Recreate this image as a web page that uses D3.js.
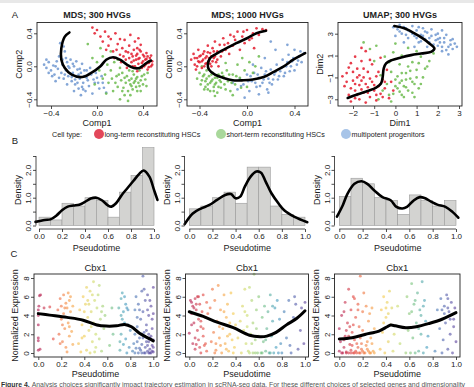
<!DOCTYPE html>
<html>
<head>
<meta charset="utf-8">
<script src="https://cdn.jsdelivr.net/npm/d3@7"></script>
<style>
body { margin: 0; background: #fff; }
svg { display: block; font-family: "Liberation Sans", Arial, sans-serif; }
</style>
</head>
<body>
<svg id="fig" width="474" height="387"></svg>
<script>
// ---------- row A: cells in reduced dimension ----------
const cellTypes = ["long-term reconstituting HSCs", "short-term reconstituting HSCs", "multipotent progenitors"];
const typeColors = ["#e31a2c", "#6cbb4e", "#6f97d0"];
const legendColors = ["#e2475a", "#a9d89b", "#a7c4e8"];

const a1Blue = [[-0.46,0.02],[-0.44,-0.02],[-0.42,0.05],[-0.40,-0.05],[-0.38,0.01],[-0.37,-0.1],[-0.35,0.06],[-0.34,-0.03],[-0.33,0.12],[-0.31,-0.08],[-0.30,0.02],[-0.29,-0.15],[-0.28,0.18],[-0.27,-0.05],[-0.26,0.05],[-0.25,-0.12],[-0.24,-0.02],[-0.23,0.08],[-0.22,-0.18],[-0.21,-0.08],[-0.20,0.0],[-0.19,-0.22],[-0.18,-0.12],[-0.17,-0.04],[-0.16,-0.27],[-0.15,-0.15],[-0.14,-0.08],[-0.13,0.03],[-0.12,-0.2],[-0.11,-0.12],[-0.10,-0.3],[-0.09,-0.05],[-0.08,-0.17],[-0.07,-0.24],[-0.05,-0.1],[-0.04,-0.33],[-0.02,-0.2],[0.0,-0.14],[0.02,-0.27],[0.05,-0.2],[0.08,-0.32],[-0.36,-0.18],[-0.32,0.28],[-0.29,0.24],[-0.26,-0.22],[-0.2,-0.3],[-0.14,-0.35],[-0.42,-0.08],[-0.18,0.06],[-0.06,-0.02],
  [-0.44,0.08],[-0.39,-0.12],[-0.36,0.0],[-0.33,-0.14],[-0.3,0.08],[-0.27,0.1],[-0.25,0.0],[-0.23,-0.09],[-0.21,0.03],[-0.19,-0.16],[-0.17,-0.2],[-0.15,-0.03],[-0.13,-0.25],[-0.11,-0.05],[-0.09,-0.14],[-0.07,-0.09],[-0.03,-0.16],[-0.01,-0.08],[0.01,-0.2],[0.04,-0.12],[-0.28,-0.1],[-0.16,-0.1],[-0.22,-0.13],[-0.12,-0.28],[0.06,-0.26]];
const a1Green = [[-0.08,0.27],[-0.04,0.1],[0.0,0.05],[0.02,-0.05],[0.05,0.12],[0.07,-0.1],[0.09,0.02],[0.1,-0.2],[0.12,-0.05],[0.14,-0.3],[0.15,0.05],[0.17,-0.12],[0.18,-0.25],[0.2,-0.02],[0.21,-0.17],[0.22,-0.08],[0.24,-0.35],[0.25,-0.2],[0.26,-0.12],[0.28,-0.05],[0.29,-0.22],[0.3,-0.15],[0.31,-0.28],[0.32,-0.1],[0.33,-0.18],[0.34,-0.25],[0.35,-0.13],[0.36,-0.2],[0.38,-0.3],[0.39,-0.12],[0.4,-0.22],[0.42,-0.16],[0.44,-0.08],[0.2,-0.4],[0.08,-0.33],[-0.02,-0.22],[0.12,0.18],[0.27,-0.42],[0.03,0.22],[0.37,-0.05],
  [0.16,-0.2],[0.19,-0.1],[0.23,-0.26],[0.24,-0.14],[0.27,-0.3],[0.28,-0.17],[0.3,-0.24],[0.31,-0.06],[0.32,-0.2],[0.34,-0.15],[0.35,-0.3],[0.37,-0.24],[0.38,-0.17],[0.41,-0.1],[0.43,-0.24],[0.22,-0.3],[0.13,-0.15],[0.05,-0.15],[0.18,0.08],[0.29,-0.35]];
const a1Red = [[-0.04,0.47],[-0.02,0.4],[0.0,0.44],[0.03,0.36],[0.05,0.3],[0.07,0.42],[0.1,0.25],[0.12,0.33],[0.14,0.18],[0.16,0.4],[0.18,0.27],[0.2,0.14],[0.22,0.22],[0.24,0.32],[0.25,0.08],[0.27,0.17],[0.28,0.25],[0.3,0.05],[0.31,0.12],[0.32,0.2],[0.33,0.0],[0.34,0.08],[0.35,0.15],[0.36,0.03],[0.37,0.1],[0.38,0.18],[0.39,-0.02],[0.4,0.06],[0.41,0.12],[0.42,0.02],[0.43,0.09],[0.44,-0.04],[0.45,0.04],[0.46,0.1],[0.47,0.0],[0.48,0.06],[0.29,0.38],[0.21,0.05],[0.26,-0.02],[0.38,0.26],[0.15,0.1],[0.43,0.16],[0.35,-0.06],[0.08,0.2],[0.33,0.3],
  [0.28,0.1],[0.3,0.15],[0.32,0.07],[0.34,0.13],[0.36,0.09],[0.37,0.2],[0.39,0.04],[0.4,0.14],[0.41,0.0],[0.42,0.08],[0.44,0.12],[0.45,-0.01],[0.46,0.06],[0.47,0.13],[0.48,0.02],[0.35,0.22],[0.25,0.18],[0.2,0.33],[0.1,0.36],[0.43,0.03],[0.31,0.0],[0.23,0.12],[0.36,0.34],[0.17,0.2]];
const a1Curve = [[-0.24,0.41],[-0.28,0.36],[-0.31,0.22],[-0.31,0.08],[-0.28,-0.02],[-0.22,-0.10],[-0.13,-0.13],[-0.05,-0.08],[0.03,0.0],[0.08,0.08],[0.14,0.11],[0.20,0.08],[0.26,0.02],[0.32,-0.02],[0.37,-0.02],[0.43,0.04],[0.47,0.07]];

const a2Red = [[-0.47,0.08],[-0.45,0.15],[-0.44,0.02],[-0.42,0.1],[-0.41,0.2],[-0.4,0.05],[-0.39,0.13],[-0.38,-0.02],[-0.37,0.08],[-0.36,0.18],[-0.35,0.03],[-0.34,0.12],[-0.33,0.25],[-0.32,0.07],[-0.31,0.16],[-0.3,0.0],[-0.29,0.22],[-0.28,0.1],[-0.27,0.3],[-0.26,0.05],[-0.25,0.18],[-0.23,0.26],[-0.22,0.12],[-0.2,0.34],[-0.18,0.2],[-0.16,0.28],[-0.14,0.38],[-0.12,0.25],[-0.1,0.32],[-0.08,0.42],[-0.06,0.2],[-0.04,0.36],[-0.02,0.28],[0.0,0.44],[0.02,0.32],[0.05,0.4],[0.08,0.46],[0.1,0.38],[0.13,0.45],[0.16,0.44],[-0.43,-0.04],[-0.24,0.0],[-0.15,0.15],[0.06,0.22],
  [-0.44,0.1],[-0.42,0.0],[-0.4,0.12],[-0.38,0.06],[-0.37,0.15],[-0.36,0.0],[-0.35,0.1],[-0.34,0.04],[-0.33,0.17],[-0.32,0.1],[-0.31,0.03],[-0.3,0.12],[-0.29,0.06],[-0.28,0.18],[-0.27,0.12],[-0.25,0.08],[-0.21,0.18],[-0.19,0.26],[-0.11,0.36],[-0.03,0.42],[0.04,0.34],[-0.41,0.06]];
const a2Green = [[-0.42,-0.15],[-0.4,-0.08],[-0.39,-0.22],[-0.37,-0.12],[-0.36,-0.28],[-0.35,-0.18],[-0.34,-0.05],[-0.33,-0.22],[-0.32,-0.12],[-0.31,-0.3],[-0.3,-0.18],[-0.29,-0.08],[-0.28,-0.25],[-0.27,-0.14],[-0.26,-0.2],[-0.25,-0.32],[-0.24,-0.1],[-0.23,-0.17],[-0.22,-0.26],[-0.2,-0.12],[-0.19,-0.22],[-0.17,-0.05],[-0.16,-0.18],[-0.14,-0.3],[-0.12,-0.1],[-0.1,-0.22],[-0.08,0.02],[-0.06,-0.14],[-0.04,0.1],[-0.02,-0.05],[0.02,0.05],[0.05,-0.08],[0.1,0.12],[-0.18,0.04],[-0.27,-0.36],[-0.12,-0.35],[0.0,-0.25],[-0.38,0.0],
  [-0.38,-0.17],[-0.36,-0.1],[-0.34,-0.15],[-0.33,-0.28],[-0.31,-0.2],[-0.3,-0.1],[-0.29,-0.16],[-0.28,-0.3],[-0.27,-0.22],[-0.25,-0.14],[-0.24,-0.25],[-0.22,-0.19],[-0.21,-0.08],[-0.18,-0.28],[-0.15,-0.1],[-0.13,-0.2],[-0.09,-0.12],[-0.05,-0.26],[0.07,0.0],[-0.35,-0.25]];
const a2Blue = [[-0.12,-0.2],[-0.08,-0.28],[-0.06,-0.15],[-0.03,-0.22],[0.0,-0.1],[0.02,-0.3],[0.04,-0.18],[0.06,-0.08],[0.08,-0.25],[0.1,-0.14],[0.12,-0.02],[0.13,-0.2],[0.15,-0.1],[0.17,-0.28],[0.18,-0.15],[0.2,-0.04],[0.21,-0.22],[0.23,-0.1],[0.25,0.02],[0.26,-0.16],[0.28,-0.06],[0.3,0.08],[0.31,-0.12],[0.33,0.0],[0.35,0.14],[0.36,-0.06],[0.38,0.06],[0.4,0.2],[0.42,0.02],[0.44,0.12],[0.46,0.05],[0.48,0.16],[0.24,0.2],[0.15,0.1],[0.05,0.02],[0.1,-0.34],[0.34,0.26],[0.2,0.3],[0.4,-0.05],[-0.02,-0.38],
  [0.03,-0.12],[0.07,-0.2],[0.09,-0.1],[0.11,-0.24],[0.14,-0.16],[0.16,-0.06],[0.19,-0.2],[0.22,-0.16],[0.24,-0.07],[0.27,-0.12],[0.29,-0.02],[0.32,-0.08],[0.34,0.05],[0.37,0.0],[0.39,0.1],[0.43,0.07],[0.45,0.18],[0.01,-0.18],[-0.05,-0.24],[0.18,-0.32]];
const a2Curve = [[0.16,0.43],[0.08,0.40],[0.0,0.34],[-0.09,0.28],[-0.17,0.22],[-0.26,0.15],[-0.31,0.10],[-0.33,0.02],[-0.32,-0.04],[-0.27,-0.10],[-0.20,-0.14],[-0.12,-0.17],[-0.03,-0.17],[0.05,-0.16],[0.14,-0.13],[0.22,-0.07],[0.31,0.0],[0.39,0.08],[0.49,0.16]];

const a3Blue = [[-0.1,3.6],[0.1,3.4],[0.2,3.8],[0.3,3.0],[0.5,3.5],[0.6,2.6],[0.7,3.2],[0.8,3.7],[0.9,2.8],[1.0,3.3],[1.1,2.2],[1.2,2.9],[1.3,3.5],[1.4,2.5],[1.5,1.8],[1.5,3.1],[1.6,2.2],[1.7,2.8],[1.8,1.5],[1.9,2.4],[2.0,3.0],[2.0,1.9],[2.1,2.6],[2.2,1.4],[2.3,2.2],[2.4,2.9],[2.5,1.8],[2.6,2.4],[2.7,1.6],[2.8,2.1],[2.9,1.8],[1.3,1.2],[0.9,1.8],[0.4,2.2],[2.2,3.3],[1.7,3.4],[0.0,2.8],[2.5,1.1],
  [0.2,3.2],[0.4,3.6],[0.6,3.3],[0.8,3.0],[1.0,2.6],[1.1,3.6],[1.3,2.8],[1.4,3.2],[1.6,2.6],[1.8,2.0],[1.9,2.9],[2.1,2.2],[2.2,1.8],[2.3,2.6],[2.4,1.5],[2.6,2.0],[2.7,2.5],[0.5,2.9],[1.2,2.3],[2.0,2.5]];
const a3Green = [[-1.2,1.6],[-1.0,0.5],[-0.9,1.9],[-0.7,-0.8],[-0.5,0.9],[-0.4,-1.6],[-0.3,-2.6],[-0.2,-0.5],[-0.1,1.3],[0.0,-1.8],[0.1,-0.9],[0.2,-2.3],[0.2,0.2],[0.3,-1.3],[0.4,-2.8],[0.5,-0.6],[0.5,-1.9],[0.6,1.7],[0.7,-1.1],[0.8,-2.4],[0.8,0.4],[0.9,-1.6],[1.0,-0.3],[1.1,-2.0],[1.2,0.9],[1.3,-1.0],[1.4,-0.2],[1.6,0.5],[1.8,1.2],[-0.8,-3.0],[-0.6,-2.2],[0.0,2.1],[-1.5,2.2],[1.0,1.4],[0.3,1.0],[-0.2,-3.2],
  [0.0,-1.2],[0.1,-2.0],[0.2,-1.5],[0.3,-0.6],[0.4,-1.8],[0.5,-1.2],[0.6,-2.2],[0.7,-0.4],[0.8,-1.4],[0.9,-2.8],[1.0,-1.0],[1.2,-1.6],[1.5,0.0],[-0.1,-2.5],[0.6,0.0],[1.1,0.3],[-0.3,0.4],[0.3,-2.6]];
const a3Red = [[-2.4,-1.8],[-2.3,-0.6],[-2.2,-2.6],[-2.1,0.3],[-2.0,-1.3],[-1.9,-2.2],[-1.9,0.9],[-1.8,-0.2],[-1.7,-1.7],[-1.7,-3.0],[-1.6,0.5],[-1.5,-1.0],[-1.5,-2.4],[-1.4,1.4],[-1.3,-0.5],[-1.3,-1.9],[-1.2,-2.8],[-1.1,0.2],[-1.1,-1.4],[-1.0,-2.2],[-0.9,-0.9],[-0.9,-3.1],[-0.8,-1.8],[-0.7,0.8],[-0.7,-2.5],[-0.6,-1.2],[-0.5,-2.0],[-0.4,-0.3],[-0.3,-2.9],[-0.2,-1.4],[-2.1,-3.2],[-1.6,1.7],[-2.5,-0.9],[-0.1,-2.2],[-1.4,-3.3],[-1.8,-1.0],
  [-2.3,-1.4],[-2.1,-2.0],[-2.0,-0.5],[-1.9,-1.6],[-1.8,-2.6],[-1.7,-0.8],[-1.6,-1.3],[-1.6,-2.1],[-1.5,-0.2],[-1.4,-1.6],[-1.3,-2.4],[-1.2,-1.1],[-1.2,0.6],[-1.0,-1.7],[-0.9,-2.6],[-0.8,-0.5],[-0.6,-2.8],[-0.5,-1.4],[-2.2,-0.1],[-1.9,-2.9]];
const a3Curve = [[-0.05,3.70],[0.42,3.49],[0.90,3.03],[1.29,2.57],[1.60,2.11],[1.84,1.65],[1.68,1.34],[1.21,1.19],[0.74,1.04],[0.27,0.83],[-0.17,0.58],[-0.44,0.28],[-0.55,-0.18],[-0.60,-0.95],[-0.68,-1.56],[-0.91,-1.93],[-1.31,-2.24],[-1.78,-2.54],[-2.25,-2.88]];

// ---------- row B: pseudotime histograms (bin width 0.1) ----------
const binEdges = [0, 0.1, 0.2, 0.3, 0.4, 0.5, 0.6, 0.7, 0.8, 0.9, 1.0];
const b1Hist = [0.3, 0.2, 0.8, 0.7, 1.0, 0.9, 0.3, 1.2, 1.8, 2.8];
const b2Hist = [0.6, 0.7, 1.0, 1.2, 0.8, 2.1, 2.1, 0.7, 0.4, 0.3];
const b3Hist = [1.05, 1.7, 1.5, 1.0, 0.9, 0.4, 1.1, 0.9, 0.7, 0.9];
const b1Dens = [[-0.03,0.13],[0.05,0.2],[0.1,0.22],[0.15,0.35],[0.2,0.55],[0.25,0.68],[0.3,0.72],[0.35,0.75],[0.4,0.85],[0.45,0.97],[0.5,1.0],[0.55,0.9],[0.6,0.72],[0.63,0.68],[0.67,0.8],[0.72,1.1],[0.77,1.35],[0.82,1.6],[0.87,1.85],[0.91,1.98],[0.96,1.76],[1.0,1.28],[1.03,0.92]];
const b2Dens = [[-0.04,0.05],[0.03,0.43],[0.1,0.61],[0.17,0.73],[0.24,0.92],[0.31,1.1],[0.36,1.13],[0.4,0.98],[0.44,1.04],[0.48,1.4],[0.53,1.76],[0.58,1.94],[0.62,1.9],[0.66,1.58],[0.71,1.16],[0.77,0.8],[0.82,0.55],[0.91,0.31],[1.02,0.12]];
const b3Dens = [[-0.02,0.32],[0.03,0.73],[0.07,1.14],[0.13,1.5],[0.19,1.59],[0.24,1.5],[0.3,1.26],[0.37,1.02],[0.44,0.91],[0.49,0.67],[0.54,0.61],[0.58,0.67],[0.64,0.91],[0.69,1.02],[0.73,0.99],[0.79,0.85],[0.84,0.75],[0.91,0.67],[0.97,0.49],[1.02,0.28]];

// ---------- row C: Cbx1 expression against pseudotime ----------
const pseudoPalette = ["#b0174f", "#e3443c", "#f58c3c", "#f5c84a", "#c9dc6a", "#74c27a", "#3f9bbd", "#4a68b0", "#5a3e9b"];
const c1Cells = [[0,0.3],[0,1.6],[0,3.0],[0,4.0],[0,4.6],[0.005,5.0],[0.01,6.1],[0.02,6.2],[0.0,1.3],[0.015,0.4],[0.05,4.8],[0.1,4.9],[0.13,1.5],[0.17,4.6],[0.18,2.0],[0.19,5.8],[0.2,3.6],[0.21,1.2],[0.22,6.2],[0.22,4.2],[0.23,2.6],[0.24,5.3],[0.24,0.6],[0.25,4.8],[0.26,3.2],[0.26,6.4],[0.27,1.8],[0.27,5.6],[0.28,4.4],[0.29,2.3],[0.3,5.0],[0.3,0.9],[0.21,3.0],[0.25,0.1],[0.28,6.0],[0.35,1.0],[0.36,4.6],[0.37,0.1],[0.38,3.0],[0.39,6.0],[0.4,1.8],[0.41,5.2],[0.42,0.3],[0.42,7.0],[0.43,3.8],[0.44,2.4],[0.45,6.6],[0.45,0.0],[0.46,4.4],[0.47,1.2],[0.48,7.6],[0.48,3.2],[0.49,5.6],[0.5,0.6],[0.5,2.0],[0.51,4.8],[0.52,6.2],[0.53,1.5],[0.54,3.6],[0.55,0.2],[0.56,5.0],[0.57,2.6],[0.58,4.0],[0.44,5.2],[0.53,7.2],[0.62,0.8],[0.64,4.8],[0.65,2.0],[0.7,4.8],[0.71,0.3],[0.72,5.8],[0.72,2.0],[0.73,3.6],[0.74,0.9],[0.74,4.4],[0.75,6.0],[0.76,1.5],[0.76,5.2],[0.77,0.0],[0.78,3.0],[0.79,0.6],[0.8,2.4],[0.73,6.4],[0.78,4.6],[0.82,0.2],[0.83,1.0],[0.84,4.6],[0.85,0.5],[0.85,6.0],[0.86,2.8],[0.87,0.0],[0.87,5.2],[0.88,1.6],[0.89,3.6],[0.89,0.3],[0.9,6.6],[0.9,0.9],[0.91,4.4],[0.91,8.2],[0.92,0.0],[0.92,2.2],[0.93,5.6],[0.93,0.6],[0.94,1.2],[0.94,3.0],[0.95,0.2],[0.95,6.2],[0.96,0.0],[0.96,4.0],[0.97,1.6],[0.97,0.4],[0.98,5.0],[0.98,0.0],[0.99,2.6],[0.99,0.8],[1.0,7.0],[1.0,0.1],[1.0,4.2],[1.0,1.4],[0.96,2.0],[0.88,4.6],[0.92,6.8],
  [0.84,0.0],[0.86,1.2],[0.88,0.5],[0.9,0.0],[0.91,1.6],[0.93,0.0],[0.94,2.4],[0.95,0.8],[0.96,1.2],[0.97,0.0],[0.98,1.8],[0.99,0.2],[1.0,0.6],[0.99,3.6],[0.97,5.6],[0.95,4.6],[0.9,2.0],[0.86,3.8],[0.84,2.0],[0.4,4.4],[0.43,5.6],[0.46,2.8],[0.49,0.1],[0.52,3.0],[0.47,6.2],[0.38,1.6],[0.55,4.4],[0.23,4.8],[0.2,5.0],[0.27,2.8],[0.19,1.0],[0.72,4.0],[0.75,3.2],[0.77,4.8],[0.71,1.2]];
const c2Cells = [[0.0,2.1],[0.01,5.6],[0.02,4.2],[0.03,1.0],[0.03,5.0],[0.04,3.2],[0.05,5.8],[0.05,0.4],[0.06,4.6],[0.07,2.4],[0.07,6.0],[0.08,1.4],[0.08,3.6],[0.09,5.2],[0.1,0.0],[0.1,2.8],[0.11,4.4],[0.12,1.8],[0.12,6.2],[0.13,0.8],[0.14,3.8],[0.15,5.4],[0.15,0.2],[0.06,0.9],[0.02,3.0],[0.18,4.8],[0.19,1.2],[0.2,6.8],[0.21,2.2],[0.22,5.6],[0.23,0.3],[0.24,3.4],[0.25,7.2],[0.26,1.6],[0.27,4.6],[0.28,0.0],[0.29,2.6],[0.3,6.2],[0.31,1.0],[0.32,3.8],[0.33,5.2],[0.34,0.2],[0.35,2.0],[0.36,6.4],[0.37,1.4],[0.38,4.2],[0.39,0.6],[0.4,3.0],[0.33,1.8],[0.27,0.8],[0.45,0.0],[0.46,5.0],[0.47,2.4],[0.48,6.8],[0.49,1.0],[0.5,4.0],[0.51,0.2],[0.52,7.0],[0.53,2.0],[0.54,5.6],[0.55,0.0],[0.55,3.2],[0.56,8.4],[0.57,1.4],[0.58,4.6],[0.59,0.0],[0.6,6.0],[0.5,2.8],[0.62,0.0],[0.63,3.8],[0.64,1.2],[0.65,5.0],[0.66,0.2],[0.67,2.6],[0.68,4.4],[0.69,0.0],[0.7,6.2],[0.71,1.8],[0.72,3.4],[0.73,0.0],[0.74,4.8],[0.75,2.2],[0.76,5.6],[0.77,0.0],[0.78,3.6],[0.79,1.0],[0.8,0.0],[0.82,4.4],[0.84,1.6],[0.86,5.6],[0.88,0.0],[0.9,3.8],[0.92,5.2],[0.94,0.4],[0.96,2.4],[0.97,4.8],[0.99,1.0],[1.0,5.4],[0.91,6.0],[0.87,0.8],
  [0.02,5.4],[0.04,4.8],[0.06,5.2],[0.08,6.0],[0.1,3.4],[0.12,2.6],[0.14,1.0],[0.16,4.2],[0.05,1.6],[0.09,0.6],[0.23,1.0],[0.26,2.8],[0.3,4.4],[0.32,0.4],[0.35,3.2],[0.38,0.0],[0.22,0.0],[0.42,1.6],[0.52,0.0],[0.54,1.0],[0.57,0.0],[0.6,1.8],[0.63,0.0],[0.66,1.4],[0.7,0.0],[0.72,5.0],[0.75,0.6],[0.58,2.6],[0.48,4.4],[0.44,3.4]];
const c3Cells = [[0.0,0.2],[0.0,2.6],[0.01,1.2],[0.02,4.0],[0.03,0.0],[0.04,0.6],[0.05,5.4],[0.05,1.8],[0.06,0.1],[0.07,3.2],[0.08,0.0],[0.08,6.8],[0.09,0.9],[0.1,4.6],[0.1,0.3],[0.11,2.2],[0.12,0.0],[0.12,6.0],[0.13,1.4],[0.14,0.2],[0.14,3.8],[0.15,0.0],[0.16,5.2],[0.16,0.6],[0.17,2.8],[0.18,0.0],[0.18,8.2],[0.19,1.0],[0.2,4.4],[0.2,0.2],[0.21,6.4],[0.22,0.0],[0.22,2.0],[0.23,5.0],[0.24,0.4],[0.25,3.4],[0.26,0.0],[0.27,1.6],[0.28,4.8],[0.29,0.2],[0.3,2.6],[0.3,0.0],[0.13,5.8],[0.06,2.4],[0.24,1.2],[0.04,4.4],[0.35,0.4],[0.36,4.6],[0.37,2.2],[0.38,6.0],[0.39,0.0],[0.4,3.8],[0.41,5.4],[0.42,1.2],[0.43,6.6],[0.44,3.0],[0.45,4.8],[0.46,0.2],[0.47,2.0],[0.5,5.0],[0.52,1.0],[0.57,0.0],[0.58,6.0],[0.59,2.4],[0.6,4.2],[0.61,0.0],[0.62,7.4],[0.63,1.6],[0.64,5.2],[0.65,0.0],[0.66,3.2],[0.67,6.4],[0.68,0.2],[0.69,4.6],[0.7,2.0],[0.71,7.6],[0.72,0.0],[0.73,5.6],[0.74,3.4],[0.75,0.6],[0.76,1.8],[0.82,0.2],[0.84,4.6],[0.86,2.6],[0.87,5.8],[0.88,0.0],[0.89,1.4],[0.9,5.0],[0.91,3.2],[0.92,6.2],[0.93,0.4],[0.94,4.4],[0.95,2.0],[0.96,5.4],[0.97,0.0],[0.98,3.6],[0.99,4.8],[1.0,1.2],[0.93,5.8],[0.98,2.8],
  [0.02,0.0],[0.04,1.4],[0.06,0.0],[0.08,1.8],[0.1,0.0],[0.11,0.8],[0.13,0.0],[0.15,1.0],[0.17,0.0],[0.18,1.6],[0.19,0.4],[0.21,0.0],[0.23,0.8],[0.25,0.2],[0.27,0.0],[0.28,1.0],[0.12,3.0],[0.16,4.6],[0.2,2.4],[0.09,2.8],[0.26,4.2],[0.4,4.8],[0.42,4.2],[0.38,3.2],[0.62,4.4],[0.65,5.6],[0.7,4.0],[0.72,5.0],[0.68,2.6],[0.9,4.2],[0.93,4.8],[0.95,3.6],[0.88,4.6]];
const c1Fit = [[0.0,4.2],[0.10,4.04],[0.25,3.8],[0.39,3.5],[0.51,2.98],[0.59,2.87],[0.68,2.9],[0.75,3.05],[0.81,2.8],[0.88,2.1],[0.96,1.56],[1.0,1.3]];
const c2Fit = [[0.0,4.4],[0.12,3.9],[0.24,3.3],[0.38,2.7],[0.52,1.9],[0.61,1.74],[0.67,1.8],[0.75,2.2],[0.84,3.0],[0.93,3.7],[1.0,4.5]];
const c3Fit = [[0.0,1.5],[0.11,1.63],[0.22,1.98],[0.34,2.34],[0.41,2.8],[0.44,2.98],[0.48,2.9],[0.57,2.7],[0.66,2.8],[0.77,3.15],[0.88,3.6],[1.0,4.3]];

const pseudoTicks = [0, 0.2, 0.4, 0.6, 0.8, 1.0];
const densTicks = [0, 0.5, 1, 1.5, 2, 2.5];
const exprTicks = [0, 2, 4, 6, 8];

const svg = d3.select("#fig");
const ink = "#222";
const f1 = d3.format(".1f");
const pseudoColor = d3.scaleLinear()
    .domain(d3.range(pseudoPalette.length).map(i => i / (pseudoPalette.length - 1)))
    .range(pseudoPalette);

svg.append("rect").attr("width", 474).attr("height", 3).attr("fill", "#e8e8e8");

function styleTicks(g, size) {
    g.selectAll(".tick line").attr("stroke", ink).attr("stroke-width", 0.8);
    g.selectAll(".tick text").attr("fill", ink).style("font-size", size + "px");
}

function bottomAxis(y0, x, ticks, fmt, line) {
    const g = svg.append("g").attr("transform", "translate(0," + y0 + ")")
        .call(d3.axisBottom(x).tickValues(ticks).tickFormat(fmt).tickSize(3).tickPadding(1));
    g.select(".domain").remove();
    styleTicks(g, 8);
    if (line) {
        g.append("line").attr("x1", x(ticks[0])).attr("x2", x(ticks[ticks.length - 1]))
            .attr("stroke", ink).attr("stroke-width", 0.8);
    }
}

function leftAxis(x0, y, ticks, fmt, line) {
    const g = svg.append("g").attr("transform", "translate(" + x0 + ",0)")
        .call(d3.axisLeft(y).tickValues(ticks).tickFormat(fmt).tickSize(3));
    g.select(".domain").remove();
    styleTicks(g, 8);
    g.selectAll(".tick text")
        .attr("transform", "rotate(-90)")
        .attr("x", 0).attr("y", -5).attr("dy", 0)
        .style("text-anchor", "middle");
    if (line) {
        g.append("line").attr("y1", y(ticks[0])).attr("y2", y(ticks[ticks.length - 1]))
            .attr("stroke", ink).attr("stroke-width", 0.8);
    }
}

function label(x, y, txt, size, opts) {
    const t = svg.append("text").attr("x", x).attr("y", y).text(txt)
        .attr("fill", ink).style("font-size", size + "px")
        .style("text-anchor", (opts && opts.anchor) || "middle");
    if (opts && opts.bold) t.style("font-weight", "bold");
    if (opts && opts.rotate) t.attr("transform", "rotate(-90," + x + "," + y + ")");
    return t;
}

function box(b) {
    svg.append("rect").attr("x", b.left).attr("y", b.top)
        .attr("width", b.right - b.left).attr("height", b.bottom - b.top)
        .attr("fill", "none").attr("stroke", ink).attr("stroke-width", 0.9);
}

function smooth(x, y, pts, w) {
    svg.append("path").datum(pts)
        .attr("d", d3.line().x(d => x(d[0])).y(d => y(d[1])).curve(d3.curveCatmullRom.alpha(0.5)))
        .attr("fill", "none").attr("stroke", "#000").attr("stroke-width", w)
        .attr("stroke-linecap", "round").attr("stroke-linejoin", "round");
}

// ---------- row A ----------
const rowA = [
    { title: "MDS; 300 HVGs", xl: "Comp1", yl: "Comp2", left: 37, right: 157,
      x: d3.scaleLinear().domain([-0.4, 0.4]).range([51, 143]),
      y: d3.scaleLinear().domain([-0.4, 0.4]).range([99.3, 33.3]),
      xt: [-0.4, 0, 0.4], yt: [-0.4, 0, 0.4], fmt: f1,
      groups: [a1Blue, a1Green, a1Red], order: [2, 1, 0], curve: a1Curve },
    { title: "MDS; 1000 HVGs", xl: "Comp1", yl: "Comp2", left: 187, right: 308,
      x: d3.scaleLinear().domain([-0.4, 0.4]).range([199.5, 294.5]),
      y: d3.scaleLinear().domain([-0.4, 0.4]).range([99.3, 33.3]),
      xt: [-0.4, 0, 0.4], yt: [-0.4, 0, 0.4], fmt: f1,
      groups: [a2Blue, a2Green, a2Red], order: [2, 1, 0], curve: a2Curve },
    { title: "UMAP; 300 HVGs", xl: "Dim1", yl: "Dim2", left: 338, right: 462,
      x: d3.scaleLinear().domain([-2, 3]).range([353, 459]),
      y: d3.scaleLinear().domain([-3, 3]).range([99.3, 33.7]),
      xt: [-2, -1, 0, 1, 2, 3], yt: [-3, -1, 1, 3], fmt: d3.format("d"),
      groups: [a3Blue, a3Green, a3Red], order: [2, 1, 0], curve: a3Curve }
];
const aTop = 22.5, aBottom = 106;

rowA.forEach(p => {
    p.groups.forEach((pts, gi) => {
        svg.append("g").selectAll("circle").data(pts).join("circle")
            .attr("cx", d => p.x(d[0])).attr("cy", d => p.y(d[1])).attr("r", 1.35)
            .attr("fill", typeColors[p.order[gi]]).attr("fill-opacity", 0.85);
    });
    smooth(p.x, p.y, p.curve, 2.6);
    box({ left: p.left, right: p.right, top: aTop, bottom: aBottom });
    bottomAxis(aBottom, p.x, p.xt, p.fmt, false);
    leftAxis(p.left, p.y, p.yt, p.fmt, false);
    label((p.left + p.right) / 2, 18, p.title, 9, { bold: true });
    label((p.left + p.right) / 2, 125.5, p.xl, 9);
    label(p.left - 15.5, (aTop + aBottom) / 2, p.yl, 9, { rotate: true });
});

// legend
label(52, 136.5, "Cell type:", 7.2, { anchor: "start" });
const legendX = [99, 221, 346];
cellTypes.forEach((c, i) => {
    svg.append("circle").attr("cx", legendX[i]).attr("cy", 134).attr("r", 5)
        .attr("fill", legendColors[i]);
    label(legendX[i] + 5.5, 136.5, c, 7.2, { anchor: "start" });
});

// ---------- row B ----------
const bY = d3.scaleLinear().domain([0, 1]).range([225.5, 197.7]);
const rowB = [
    { axisX: 36, x: d3.scaleLinear().domain([0, 1]).range([39, 154]), hist: b1Hist, dens: b1Dens },
    { axisX: 184.5, x: d3.scaleLinear().domain([0, 1]).range([189.3, 305]), hist: b2Hist, dens: b2Dens },
    { axisX: 334.5, x: d3.scaleLinear().domain([0, 1]).range([339.3, 456]), hist: b3Hist, dens: b3Dens }
];
rowB.forEach(p => {
    svg.append("g").selectAll("rect").data(p.hist).join("rect")
        .attr("x", (d, i) => p.x(binEdges[i]))
        .attr("width", (d, i) => p.x(binEdges[i + 1]) - p.x(binEdges[i]))
        .attr("y", d => bY(d)).attr("height", d => bY(0) - bY(d))
        .attr("fill", "#d3d3d1").attr("stroke", "#9b9b9b").attr("stroke-width", 0.6);
    smooth(p.x, bY, p.dens, 2.6);
    bottomAxis(229, p.x, pseudoTicks, f1, true);
    leftAxis(p.axisX, bY, densTicks, d => d % 1 === 0 ? f1(d) : "", true);
    label((p.x(0) + p.x(1)) / 2, 250.5, "Pseudotime", 9);
    label(p.axisX - 15, 190, "Density", 9, { rotate: true });
});

// ---------- row C ----------
const cY = d3.scaleLinear().domain([0, 8]).range([353, 278]);
const cTop = 274, cBottom = 357;
const rowC = [
    { left: 34, right: 157, x: d3.scaleLinear().domain([0, 1]).range([38.3, 153.3]), cells: c1Cells, fit: c1Fit },
    { left: 185.5, right: 308.5, x: d3.scaleLinear().domain([0, 1]).range([189.3, 305]), cells: c2Cells, fit: c2Fit },
    { left: 334.5, right: 460, x: d3.scaleLinear().domain([0, 1]).range([339.3, 456]), cells: c3Cells, fit: c3Fit }
];
rowC.forEach(p => {
    svg.append("g").selectAll("circle").data(p.cells).join("circle")
        .attr("cx", d => p.x(d[0])).attr("cy", d => cY(d[1])).attr("r", 1.45)
        .attr("fill", d => pseudoColor(d[0])).attr("fill-opacity", 0.6);
    smooth(p.x, cY, p.fit, 3);
    box({ left: p.left, right: p.right, top: cTop, bottom: cBottom });
    bottomAxis(cBottom, p.x, pseudoTicks, f1, false);
    leftAxis(p.left, cY, exprTicks, d3.format("d"), false);
    label((p.left + p.right) / 2, 271, "Cbx1", 9.5);
    label((p.left + p.right) / 2, 377, "Pseudotime", 9);
    label(p.left - 16, (cTop + cBottom) / 2, "Normalized Expression", 9, { rotate: true });
});

// panel letters
label(15, 18, "A", 9.5);
label(15, 144, "B", 9.5);
label(14, 257, "C", 9.5);

// caption strip at the bottom edge
const cap = svg.append("text").attr("x", 1).attr("y", 386.5)
    .style("font-size", "6.9px").attr("fill", "#555");
cap.append("tspan").style("font-weight", "bold").attr("fill", "#333").text("Figure 4. ");
cap.append("tspan").text("Analysis choices significantly impact trajectory estimation in scRNA-seq data. For these different choices of selected genes and dimensionality");
</script>
</body>
</html>
